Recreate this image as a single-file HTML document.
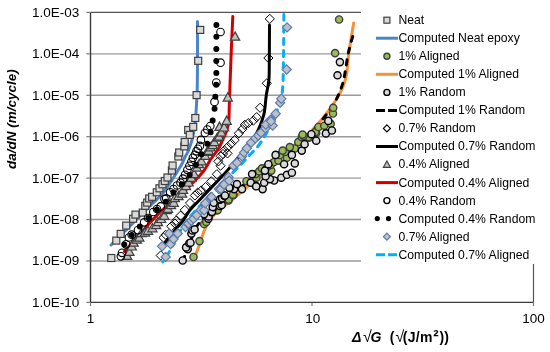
<!DOCTYPE html>
<html><head><meta charset="utf-8"><style>
html,body{margin:0;padding:0;background:#fff;}
svg{display:block;}
.tk{font-family:"Liberation Sans",Arial,sans-serif;font-size:13.5px;fill:#000;}
.lg{font-family:"Liberation Sans",Arial,sans-serif;font-size:12.2px;fill:#000;}
.at{font-family:"Liberation Sans",Arial,sans-serif;font-size:13.5px;font-weight:bold;font-style:italic;fill:#000;}
.at2{font-family:"Liberation Sans",Arial,sans-serif;font-size:14px;font-weight:bold;fill:#000;}
.it{font-style:italic;}
.sq{font-weight:normal;font-size:16px;}
.sup{font-size:16px;}
</style></head><body>
<svg width="550" height="352" viewBox="0 0 550 352">
<line x1="90.5" y1="53.83" x2="533.5" y2="53.83" stroke="#9a9a9a" stroke-width="1.4"/>
<line x1="90.5" y1="95.26" x2="533.5" y2="95.26" stroke="#9a9a9a" stroke-width="1.4"/>
<line x1="90.5" y1="136.69" x2="533.5" y2="136.69" stroke="#9a9a9a" stroke-width="1.4"/>
<line x1="90.5" y1="178.11" x2="533.5" y2="178.11" stroke="#9a9a9a" stroke-width="1.4"/>
<line x1="90.5" y1="219.54" x2="533.5" y2="219.54" stroke="#9a9a9a" stroke-width="1.4"/>
<line x1="90.5" y1="260.97" x2="533.5" y2="260.97" stroke="#9a9a9a" stroke-width="1.4"/>
<line x1="90.5" y1="12.4" x2="533.5" y2="12.4" stroke="#555" stroke-width="1.2"/>
<line x1="533.5" y1="12.4" x2="533.5" y2="302.4" stroke="#555" stroke-width="1.2"/>
<line x1="90.5" y1="12.4" x2="90.5" y2="302.4" stroke="#3a3a3a" stroke-width="1.4"/>
<line x1="90.5" y1="302.4" x2="533.5" y2="302.4" stroke="#3a3a3a" stroke-width="1.4"/>
<line x1="86.3" y1="12.40" x2="89.8" y2="12.40" stroke="#7a7a7a" stroke-width="1.2"/>
<line x1="86.3" y1="53.83" x2="89.8" y2="53.83" stroke="#7a7a7a" stroke-width="1.2"/>
<line x1="86.3" y1="95.26" x2="89.8" y2="95.26" stroke="#7a7a7a" stroke-width="1.2"/>
<line x1="86.3" y1="136.69" x2="89.8" y2="136.69" stroke="#7a7a7a" stroke-width="1.2"/>
<line x1="86.3" y1="178.11" x2="89.8" y2="178.11" stroke="#7a7a7a" stroke-width="1.2"/>
<line x1="86.3" y1="219.54" x2="89.8" y2="219.54" stroke="#7a7a7a" stroke-width="1.2"/>
<line x1="86.3" y1="260.97" x2="89.8" y2="260.97" stroke="#7a7a7a" stroke-width="1.2"/>
<line x1="86.3" y1="302.40" x2="89.8" y2="302.40" stroke="#7a7a7a" stroke-width="1.2"/>
<line x1="90.5" y1="303.09999999999997" x2="90.5" y2="306" stroke="#7a7a7a" stroke-width="1.2"/>
<line x1="312.0" y1="303.09999999999997" x2="312.0" y2="306" stroke="#7a7a7a" stroke-width="1.2"/>
<line x1="533.5" y1="303.09999999999997" x2="533.5" y2="306" stroke="#7a7a7a" stroke-width="1.2"/>
<path d="M111.0,245.0 C112.5,243.5 116.7,239.3 120.0,236.0 C123.3,232.7 127.3,228.7 131.0,225.0 C134.7,221.3 138.5,217.5 142.0,214.0 C145.5,210.5 148.5,207.4 152.0,204.0 C155.5,200.6 159.5,197.4 162.8,193.4 C166.1,189.4 169.0,184.6 172.0,180.0 C175.0,175.4 178.8,169.4 181.0,165.6 C183.2,161.8 183.8,159.5 185.0,157.0 C186.2,154.5 187.2,153.6 188.4,150.6 C189.6,147.6 191.2,143.0 192.2,139.1 C193.2,135.2 194.0,131.4 194.6,127.0 C195.2,122.6 195.6,118.9 196.0,112.7 C196.4,106.5 196.9,98.8 197.2,90.0 C197.4,81.2 197.4,71.4 197.5,60.0 C197.6,48.6 197.5,27.9 197.5,21.5" fill="none" stroke="#4a85cc" stroke-width="3" stroke-linecap="round" stroke-linejoin="round"/>
<rect x="107.8" y="254.5" width="7" height="7" fill="#d9d9d9" stroke="#3f3f3f" stroke-width="1.2"/>
<rect x="112.8" y="237.1" width="7" height="7" fill="#d9d9d9" stroke="#3f3f3f" stroke-width="1.2"/>
<rect x="117.2" y="230.4" width="7" height="7" fill="#d9d9d9" stroke="#3f3f3f" stroke-width="1.2"/>
<rect x="122.7" y="222.1" width="7" height="7" fill="#d9d9d9" stroke="#3f3f3f" stroke-width="1.2"/>
<rect x="129.6" y="215.3" width="7" height="7" fill="#d9d9d9" stroke="#3f3f3f" stroke-width="1.2"/>
<rect x="132.0" y="211.1" width="7" height="7" fill="#d9d9d9" stroke="#3f3f3f" stroke-width="1.2"/>
<rect x="139.3" y="209.1" width="7" height="7" fill="#d9d9d9" stroke="#3f3f3f" stroke-width="1.2"/>
<rect x="141.8" y="202.3" width="7" height="7" fill="#d9d9d9" stroke="#3f3f3f" stroke-width="1.2"/>
<rect x="143.7" y="199.1" width="7" height="7" fill="#d9d9d9" stroke="#3f3f3f" stroke-width="1.2"/>
<rect x="145.7" y="195.0" width="7" height="7" fill="#d9d9d9" stroke="#3f3f3f" stroke-width="1.2"/>
<rect x="148.6" y="193.3" width="7" height="7" fill="#d9d9d9" stroke="#3f3f3f" stroke-width="1.2"/>
<rect x="153.3" y="188.8" width="7" height="7" fill="#d9d9d9" stroke="#3f3f3f" stroke-width="1.2"/>
<rect x="156.0" y="184.8" width="7" height="7" fill="#d9d9d9" stroke="#3f3f3f" stroke-width="1.2"/>
<rect x="159.0" y="180.8" width="7" height="7" fill="#d9d9d9" stroke="#3f3f3f" stroke-width="1.2"/>
<rect x="161.3" y="177.5" width="7" height="7" fill="#d9d9d9" stroke="#3f3f3f" stroke-width="1.2"/>
<rect x="164.0" y="174.0" width="7" height="7" fill="#d9d9d9" stroke="#3f3f3f" stroke-width="1.2"/>
<rect x="168.4" y="167.0" width="7" height="7" fill="#d9d9d9" stroke="#3f3f3f" stroke-width="1.2"/>
<rect x="169.1" y="162.0" width="7" height="7" fill="#d9d9d9" stroke="#3f3f3f" stroke-width="1.2"/>
<rect x="174.8" y="153.0" width="7" height="7" fill="#d9d9d9" stroke="#3f3f3f" stroke-width="1.2"/>
<rect x="175.7" y="149.0" width="7" height="7" fill="#d9d9d9" stroke="#3f3f3f" stroke-width="1.2"/>
<rect x="180.8" y="142.9" width="7" height="7" fill="#d9d9d9" stroke="#3f3f3f" stroke-width="1.2"/>
<rect x="181.2" y="138.5" width="7" height="7" fill="#d9d9d9" stroke="#3f3f3f" stroke-width="1.2"/>
<rect x="184.7" y="126.5" width="7" height="7" fill="#d9d9d9" stroke="#3f3f3f" stroke-width="1.2"/>
<rect x="186.3" y="131.4" width="7" height="7" fill="#d9d9d9" stroke="#3f3f3f" stroke-width="1.2"/>
<rect x="189.7" y="123.4" width="7" height="7" fill="#d9d9d9" stroke="#3f3f3f" stroke-width="1.2"/>
<rect x="191.8" y="114.5" width="7" height="7" fill="#d9d9d9" stroke="#3f3f3f" stroke-width="1.2"/>
<rect x="193.1" y="91.6" width="7" height="7" fill="#d9d9d9" stroke="#3f3f3f" stroke-width="1.2"/>
<rect x="194.7" y="57.3" width="7" height="7" fill="#d9d9d9" stroke="#3f3f3f" stroke-width="1.2"/>
<rect x="196.7" y="26.4" width="7" height="7" fill="#d9d9d9" stroke="#3f3f3f" stroke-width="1.2"/>
<path d="M194.6,258.0 C195.5,255.5 198.1,248.1 199.9,243.2 C201.7,238.2 203.2,232.6 205.2,228.3 C207.1,224.1 209.1,220.9 211.6,217.7 C214.1,214.5 217.1,211.8 220.1,209.1 C223.1,206.4 226.4,204.4 229.7,201.7 C233.0,199.0 235.8,196.6 240.0,193.0 C244.2,189.4 250.7,184.0 255.0,180.0 C259.3,176.0 262.8,172.2 266.0,169.0 C269.2,165.8 271.1,163.8 274.1,161.0 C277.1,158.2 280.6,154.7 284.0,152.0 C287.4,149.3 291.5,147.1 294.7,144.9 C297.9,142.7 299.4,142.2 303.0,139.0 C306.6,135.8 312.0,130.3 316.2,125.7 C320.4,121.1 324.7,116.0 328.3,111.2 C331.9,106.4 335.6,100.7 338.0,96.7 C340.4,92.7 341.4,90.7 342.8,87.1 C344.2,83.5 345.4,80.7 346.4,75.0 C347.4,69.3 347.6,61.8 348.8,53.1 C350.0,44.4 352.9,27.9 353.7,22.9" fill="none" stroke="#f89038" stroke-width="3" stroke-linecap="round" stroke-linejoin="round"/>
<path d="M352.7,36.5 C352.0,39.3 349.5,47.5 348.3,53.1 C347.1,58.7 346.4,65.0 345.5,70.0 C344.6,75.0 344.2,78.6 342.8,83.3 C341.4,88.0 339.3,93.4 337.0,98.0 C334.7,102.6 332.2,106.5 329.0,111.0 C325.8,115.5 322.0,120.5 318.0,125.0 C314.0,129.5 309.0,134.7 305.0,138.0 C301.0,141.3 297.8,142.7 294.0,145.0 C290.2,147.3 286.0,149.2 282.0,152.0 C278.0,154.8 274.0,158.3 270.0,162.0 C266.0,165.7 262.2,170.3 258.0,174.0 C253.8,177.7 249.3,180.7 245.0,184.0 C240.7,187.3 236.2,190.7 232.0,194.0 C227.8,197.3 223.9,200.7 220.0,204.0 C216.1,207.3 211.9,211.0 208.6,214.0 C205.3,217.0 202.4,219.2 200.0,222.0 C197.6,224.8 195.5,228.0 194.0,231.0 C192.5,234.0 192.1,237.0 191.0,240.0 C189.9,243.0 189.1,245.7 187.7,249.1 C186.3,252.5 183.5,258.6 182.7,260.5" fill="none" stroke="#000" stroke-width="3" stroke-linecap="round" stroke-linejoin="round" stroke-dasharray="5 7"/>
<circle cx="193.5" cy="257.0" r="3.6" fill="#9bbb59" stroke="#3f3f3f" stroke-width="1.4"/>
<circle cx="199.5" cy="241.1" r="3.6" fill="#9bbb59" stroke="#3f3f3f" stroke-width="1.4"/>
<circle cx="204.1" cy="224.0" r="3.6" fill="#9bbb59" stroke="#3f3f3f" stroke-width="1.4"/>
<circle cx="206.3" cy="221.9" r="3.6" fill="#9bbb59" stroke="#3f3f3f" stroke-width="1.4"/>
<circle cx="216.9" cy="210.2" r="3.6" fill="#9bbb59" stroke="#3f3f3f" stroke-width="1.4"/>
<circle cx="217.7" cy="210.1" r="3.6" fill="#9bbb59" stroke="#3f3f3f" stroke-width="1.4"/>
<circle cx="228.5" cy="200.5" r="3.6" fill="#9bbb59" stroke="#3f3f3f" stroke-width="1.4"/>
<circle cx="228.6" cy="199.6" r="3.6" fill="#9bbb59" stroke="#3f3f3f" stroke-width="1.4"/>
<circle cx="232.9" cy="195.3" r="3.6" fill="#9bbb59" stroke="#3f3f3f" stroke-width="1.4"/>
<circle cx="233.6" cy="194.8" r="3.6" fill="#9bbb59" stroke="#3f3f3f" stroke-width="1.4"/>
<circle cx="233.0" cy="194.7" r="3.6" fill="#9bbb59" stroke="#3f3f3f" stroke-width="1.4"/>
<circle cx="246.4" cy="181.2" r="3.6" fill="#9bbb59" stroke="#3f3f3f" stroke-width="1.4"/>
<circle cx="252.8" cy="180.5" r="3.6" fill="#9bbb59" stroke="#3f3f3f" stroke-width="1.4"/>
<circle cx="256.4" cy="177.7" r="3.6" fill="#9bbb59" stroke="#3f3f3f" stroke-width="1.4"/>
<circle cx="255.6" cy="174.1" r="3.6" fill="#9bbb59" stroke="#3f3f3f" stroke-width="1.4"/>
<circle cx="259.2" cy="171.3" r="3.6" fill="#9bbb59" stroke="#3f3f3f" stroke-width="1.4"/>
<circle cx="271.3" cy="170.6" r="3.6" fill="#9bbb59" stroke="#3f3f3f" stroke-width="1.4"/>
<circle cx="262.0" cy="168.4" r="3.6" fill="#9bbb59" stroke="#3f3f3f" stroke-width="1.4"/>
<circle cx="267.0" cy="167.0" r="3.6" fill="#9bbb59" stroke="#3f3f3f" stroke-width="1.4"/>
<circle cx="270.6" cy="164.9" r="3.6" fill="#9bbb59" stroke="#3f3f3f" stroke-width="1.4"/>
<circle cx="274.1" cy="162.0" r="3.6" fill="#9bbb59" stroke="#3f3f3f" stroke-width="1.4"/>
<circle cx="278.4" cy="160.6" r="3.6" fill="#9bbb59" stroke="#3f3f3f" stroke-width="1.4"/>
<circle cx="286.9" cy="157.8" r="3.6" fill="#9bbb59" stroke="#3f3f3f" stroke-width="1.4"/>
<circle cx="280.0" cy="155.0" r="3.6" fill="#9bbb59" stroke="#3f3f3f" stroke-width="1.4"/>
<circle cx="285.0" cy="152.0" r="3.6" fill="#9bbb59" stroke="#3f3f3f" stroke-width="1.4"/>
<circle cx="282.7" cy="150.6" r="3.6" fill="#9bbb59" stroke="#3f3f3f" stroke-width="1.4"/>
<circle cx="294.8" cy="148.5" r="3.6" fill="#9bbb59" stroke="#3f3f3f" stroke-width="1.4"/>
<circle cx="289.8" cy="147.1" r="3.6" fill="#9bbb59" stroke="#3f3f3f" stroke-width="1.4"/>
<circle cx="298.3" cy="142.1" r="3.6" fill="#9bbb59" stroke="#3f3f3f" stroke-width="1.4"/>
<circle cx="309.0" cy="137.8" r="3.6" fill="#9bbb59" stroke="#3f3f3f" stroke-width="1.4"/>
<circle cx="304.5" cy="137.2" r="3.6" fill="#9bbb59" stroke="#3f3f3f" stroke-width="1.4"/>
<circle cx="301.8" cy="137.1" r="3.6" fill="#9bbb59" stroke="#3f3f3f" stroke-width="1.4"/>
<circle cx="308.6" cy="137.0" r="3.6" fill="#9bbb59" stroke="#3f3f3f" stroke-width="1.4"/>
<circle cx="303.6" cy="136.0" r="3.6" fill="#9bbb59" stroke="#3f3f3f" stroke-width="1.4"/>
<circle cx="302.6" cy="134.6" r="3.6" fill="#9bbb59" stroke="#3f3f3f" stroke-width="1.4"/>
<circle cx="316.2" cy="133.0" r="3.6" fill="#9bbb59" stroke="#3f3f3f" stroke-width="1.4"/>
<circle cx="315.3" cy="132.1" r="3.6" fill="#9bbb59" stroke="#3f3f3f" stroke-width="1.4"/>
<circle cx="318.5" cy="127.0" r="3.6" fill="#9bbb59" stroke="#3f3f3f" stroke-width="1.4"/>
<circle cx="324.3" cy="125.7" r="3.6" fill="#9bbb59" stroke="#3f3f3f" stroke-width="1.4"/>
<circle cx="330.7" cy="123.8" r="3.6" fill="#9bbb59" stroke="#3f3f3f" stroke-width="1.4"/>
<circle cx="333.0" cy="113.5" r="3.6" fill="#9bbb59" stroke="#3f3f3f" stroke-width="1.4"/>
<circle cx="333.2" cy="107.8" r="3.6" fill="#9bbb59" stroke="#3f3f3f" stroke-width="1.4"/>
<circle cx="335.1" cy="53.1" r="3.6" fill="#9bbb59" stroke="#3f3f3f" stroke-width="1.4"/>
<circle cx="339.1" cy="19.5" r="3.6" fill="#9bbb59" stroke="#3f3f3f" stroke-width="1.4"/>
<circle cx="255.7" cy="185.7" r="3.6" fill="#d9d9d9" stroke="#000" stroke-width="1.4"/>
<circle cx="250.7" cy="182.7" r="3.6" fill="#d9d9d9" stroke="#000" stroke-width="1.4"/>
<circle cx="182.7" cy="260.5" r="3.6" fill="#d9d9d9" stroke="#000" stroke-width="1.4"/>
<circle cx="187.7" cy="249.1" r="3.6" fill="#d9d9d9" stroke="#000" stroke-width="1.4"/>
<circle cx="186.1" cy="247.4" r="3.6" fill="#d9d9d9" stroke="#000" stroke-width="1.4"/>
<circle cx="189.3" cy="243.2" r="3.6" fill="#d9d9d9" stroke="#000" stroke-width="1.4"/>
<circle cx="190.5" cy="242.7" r="3.6" fill="#d9d9d9" stroke="#000" stroke-width="1.4"/>
<circle cx="191.4" cy="233.6" r="3.6" fill="#d9d9d9" stroke="#000" stroke-width="1.4"/>
<circle cx="192.4" cy="230.4" r="3.6" fill="#d9d9d9" stroke="#000" stroke-width="1.4"/>
<circle cx="194.6" cy="229.4" r="3.6" fill="#d9d9d9" stroke="#000" stroke-width="1.4"/>
<circle cx="208.4" cy="218.7" r="3.6" fill="#d9d9d9" stroke="#000" stroke-width="1.4"/>
<circle cx="208.6" cy="216.4" r="3.6" fill="#d9d9d9" stroke="#000" stroke-width="1.4"/>
<circle cx="204.1" cy="214.1" r="3.6" fill="#d9d9d9" stroke="#000" stroke-width="1.4"/>
<circle cx="211.6" cy="212.3" r="3.6" fill="#d9d9d9" stroke="#000" stroke-width="1.4"/>
<circle cx="212.0" cy="211.8" r="3.6" fill="#d9d9d9" stroke="#000" stroke-width="1.4"/>
<circle cx="213.8" cy="207.3" r="3.6" fill="#d9d9d9" stroke="#000" stroke-width="1.4"/>
<circle cx="212.7" cy="207.0" r="3.6" fill="#d9d9d9" stroke="#000" stroke-width="1.4"/>
<circle cx="220.1" cy="206.0" r="3.6" fill="#d9d9d9" stroke="#000" stroke-width="1.4"/>
<circle cx="221.7" cy="205.0" r="3.6" fill="#d9d9d9" stroke="#000" stroke-width="1.4"/>
<circle cx="213.7" cy="202.8" r="3.6" fill="#d9d9d9" stroke="#000" stroke-width="1.4"/>
<circle cx="220.1" cy="199.6" r="3.6" fill="#d9d9d9" stroke="#000" stroke-width="1.4"/>
<circle cx="220.0" cy="199.3" r="3.6" fill="#d9d9d9" stroke="#000" stroke-width="1.4"/>
<circle cx="222.1" cy="198.3" r="3.6" fill="#d9d9d9" stroke="#000" stroke-width="1.4"/>
<circle cx="224.5" cy="195.9" r="3.6" fill="#d9d9d9" stroke="#000" stroke-width="1.4"/>
<circle cx="225.0" cy="195.5" r="3.6" fill="#d9d9d9" stroke="#000" stroke-width="1.4"/>
<circle cx="234.2" cy="189.1" r="3.6" fill="#d9d9d9" stroke="#000" stroke-width="1.4"/>
<circle cx="242.0" cy="189.1" r="3.6" fill="#d9d9d9" stroke="#000" stroke-width="1.4"/>
<circle cx="262.6" cy="189.1" r="3.6" fill="#d9d9d9" stroke="#000" stroke-width="1.4"/>
<circle cx="229.7" cy="188.0" r="3.6" fill="#d9d9d9" stroke="#000" stroke-width="1.4"/>
<circle cx="229.2" cy="187.7" r="3.6" fill="#d9d9d9" stroke="#000" stroke-width="1.4"/>
<circle cx="256.2" cy="186.3" r="3.6" fill="#d9d9d9" stroke="#000" stroke-width="1.4"/>
<circle cx="237.0" cy="184.1" r="3.6" fill="#d9d9d9" stroke="#000" stroke-width="1.4"/>
<circle cx="264.2" cy="182.7" r="3.6" fill="#d9d9d9" stroke="#000" stroke-width="1.4"/>
<circle cx="274.1" cy="180.5" r="3.6" fill="#d9d9d9" stroke="#000" stroke-width="1.4"/>
<circle cx="269.9" cy="179.1" r="3.6" fill="#d9d9d9" stroke="#000" stroke-width="1.4"/>
<circle cx="281.3" cy="177.7" r="3.6" fill="#d9d9d9" stroke="#000" stroke-width="1.4"/>
<circle cx="265.6" cy="176.3" r="3.6" fill="#d9d9d9" stroke="#000" stroke-width="1.4"/>
<circle cx="286.9" cy="174.8" r="3.6" fill="#d9d9d9" stroke="#000" stroke-width="1.4"/>
<circle cx="252.1" cy="174.1" r="3.6" fill="#d9d9d9" stroke="#000" stroke-width="1.4"/>
<circle cx="291.9" cy="172.7" r="3.6" fill="#d9d9d9" stroke="#000" stroke-width="1.4"/>
<circle cx="264.9" cy="170.6" r="3.6" fill="#d9d9d9" stroke="#000" stroke-width="1.4"/>
<circle cx="284.1" cy="164.2" r="3.6" fill="#d9d9d9" stroke="#000" stroke-width="1.4"/>
<circle cx="268.4" cy="164.2" r="3.6" fill="#d9d9d9" stroke="#000" stroke-width="1.4"/>
<circle cx="294.8" cy="163.4" r="3.6" fill="#d9d9d9" stroke="#000" stroke-width="1.4"/>
<circle cx="275.6" cy="154.9" r="3.6" fill="#d9d9d9" stroke="#000" stroke-width="1.4"/>
<circle cx="291.9" cy="154.9" r="3.6" fill="#d9d9d9" stroke="#000" stroke-width="1.4"/>
<circle cx="301.8" cy="150.6" r="3.6" fill="#d9d9d9" stroke="#000" stroke-width="1.4"/>
<circle cx="304.6" cy="144.2" r="3.6" fill="#d9d9d9" stroke="#000" stroke-width="1.4"/>
<circle cx="316.2" cy="140.7" r="3.6" fill="#d9d9d9" stroke="#000" stroke-width="1.4"/>
<circle cx="311.4" cy="134.2" r="3.6" fill="#d9d9d9" stroke="#000" stroke-width="1.4"/>
<circle cx="325.9" cy="133.4" r="3.6" fill="#d9d9d9" stroke="#000" stroke-width="1.4"/>
<circle cx="331.9" cy="130.5" r="3.6" fill="#d9d9d9" stroke="#000" stroke-width="1.4"/>
<circle cx="328.3" cy="120.9" r="3.6" fill="#d9d9d9" stroke="#000" stroke-width="1.4"/>
<circle cx="337.5" cy="75.3" r="3.6" fill="#d9d9d9" stroke="#000" stroke-width="1.4"/>
<circle cx="339.9" cy="62.1" r="3.6" fill="#d9d9d9" stroke="#000" stroke-width="1.4"/>
<path d="M160.7,250.9L165.3,255.5L160.7,260.1L156.1,255.5Z" fill="none" stroke="#000" stroke-width="1.0"/>
<path d="M163.5,233.0L168.1,237.6L163.5,242.2L158.9,237.6Z" fill="none" stroke="#000" stroke-width="1.0"/>
<path d="M165.7,230.2L170.3,234.8L165.7,239.4L161.1,234.8Z" fill="none" stroke="#000" stroke-width="1.0"/>
<path d="M171.3,221.7L175.9,226.3L171.3,230.9L166.7,226.3Z" fill="none" stroke="#000" stroke-width="1.0"/>
<path d="M174.9,218.9L179.5,223.5L174.9,228.1L170.3,223.5Z" fill="none" stroke="#000" stroke-width="1.0"/>
<path d="M176.3,216.0L180.9,220.6L176.3,225.2L171.7,220.6Z" fill="none" stroke="#000" stroke-width="1.0"/>
<path d="M180.6,211.0L185.2,215.6L180.6,220.2L176.0,215.6Z" fill="none" stroke="#000" stroke-width="1.0"/>
<path d="M184.8,205.4L189.4,210.0L184.8,214.6L180.2,210.0Z" fill="none" stroke="#000" stroke-width="1.0"/>
<path d="M190.0,198.4L194.6,203.0L190.0,207.6L185.4,203.0Z" fill="none" stroke="#000" stroke-width="1.0"/>
<path d="M194.9,190.9L199.5,195.5L194.9,200.1L190.3,195.5Z" fill="none" stroke="#000" stroke-width="1.0"/>
<path d="M197.7,188.1L202.3,192.7L197.7,197.3L193.1,192.7Z" fill="none" stroke="#000" stroke-width="1.0"/>
<path d="M201.3,185.9L205.9,190.5L201.3,195.1L196.7,190.5Z" fill="none" stroke="#000" stroke-width="1.0"/>
<path d="M205.5,182.4L210.1,187.0L205.5,191.6L200.9,187.0Z" fill="none" stroke="#000" stroke-width="1.0"/>
<path d="M211.2,176.7L215.8,181.3L211.2,185.9L206.6,181.3Z" fill="none" stroke="#000" stroke-width="1.0"/>
<path d="M216.9,169.6L221.5,174.2L216.9,178.8L212.3,174.2Z" fill="none" stroke="#000" stroke-width="1.0"/>
<path d="M220.5,161.1L225.1,165.7L220.5,170.3L215.9,165.7Z" fill="none" stroke="#000" stroke-width="1.0"/>
<path d="M218.4,156.8L223.0,161.4L218.4,166.0L213.8,161.4Z" fill="none" stroke="#000" stroke-width="1.0"/>
<path d="M220.7,151.7L225.3,156.3L220.7,160.9L216.1,156.3Z" fill="none" stroke="#000" stroke-width="1.0"/>
<path d="M223.0,149.4L227.6,154.0L223.0,158.6L218.4,154.0Z" fill="none" stroke="#000" stroke-width="1.0"/>
<path d="M224.4,145.8L229.0,150.4L224.4,155.0L219.8,150.4Z" fill="none" stroke="#000" stroke-width="1.0"/>
<path d="M227.5,148.8L232.1,153.4L227.5,158.0L222.9,153.4Z" fill="none" stroke="#000" stroke-width="1.0"/>
<path d="M227.8,142.4L232.4,147.0L227.8,151.6L223.2,147.0Z" fill="none" stroke="#000" stroke-width="1.0"/>
<path d="M231.2,139.0L235.8,143.6L231.2,148.2L226.6,143.6Z" fill="none" stroke="#000" stroke-width="1.0"/>
<path d="M234.6,135.5L239.2,140.1L234.6,144.7L230.0,140.1Z" fill="none" stroke="#000" stroke-width="1.0"/>
<path d="M238.9,128.7L243.5,133.3L238.9,137.9L234.3,133.3Z" fill="none" stroke="#000" stroke-width="1.0"/>
<path d="M242.3,124.5L246.9,129.1L242.3,133.7L237.7,129.1Z" fill="none" stroke="#000" stroke-width="1.0"/>
<path d="M244.8,120.2L249.4,124.8L244.8,129.4L240.2,124.8Z" fill="none" stroke="#000" stroke-width="1.0"/>
<path d="M248.2,118.5L252.8,123.1L248.2,127.7L243.6,123.1Z" fill="none" stroke="#000" stroke-width="1.0"/>
<path d="M253.3,116.0L257.9,120.6L253.3,125.2L248.7,120.6Z" fill="none" stroke="#000" stroke-width="1.0"/>
<path d="M256.7,112.5L261.3,117.1L256.7,121.7L252.1,117.1Z" fill="none" stroke="#000" stroke-width="1.0"/>
<path d="M260.1,103.2L264.7,107.8L260.1,112.4L255.5,107.8Z" fill="none" stroke="#000" stroke-width="1.0"/>
<path d="M266.8,78.7L271.4,83.3L266.8,87.9L262.2,83.3Z" fill="none" stroke="#000" stroke-width="1.0"/>
<path d="M268.4,53.4L273.0,58.0L268.4,62.6L263.8,58.0Z" fill="none" stroke="#000" stroke-width="1.0"/>
<path d="M269.8,14.3L274.4,18.9L269.8,23.5L265.2,18.9Z" fill="none" stroke="#000" stroke-width="1.0"/>
<path d="M163.5,244.8 C164.4,243.6 167.1,240.4 169.2,237.7 C171.3,235.0 173.9,231.4 176.3,228.5 C178.7,225.6 181.1,223.4 183.4,220.3 C185.7,217.2 187.2,213.5 190.0,210.0 C192.8,206.5 196.7,203.0 200.0,199.5 C203.3,196.0 206.7,192.5 210.0,189.0 C213.3,185.5 216.9,181.8 220.0,178.5 C223.1,175.2 225.9,172.2 228.7,168.9 C231.5,165.7 234.3,162.2 237.0,159.0 C239.7,155.8 242.5,153.1 245.0,150.0 C247.5,146.9 249.9,143.6 252.0,140.5 C254.1,137.4 255.9,134.6 257.5,131.5 C259.1,128.4 260.4,125.2 261.5,122.0 C262.6,118.8 263.6,116.5 264.4,112.0 C265.2,107.5 265.6,100.3 266.3,95.0 C267.1,89.7 268.4,85.8 268.9,80.0 C269.4,74.2 269.2,69.2 269.3,60.0 C269.4,50.8 269.5,30.8 269.5,25.0" fill="none" stroke="#000" stroke-width="3" stroke-linecap="round" stroke-linejoin="round"/>
<path d="M124.5,251.5 C124.8,251.1 124.5,251.2 126.6,248.9 C128.7,246.6 133.6,241.3 137.0,237.5 C140.4,233.7 143.8,229.5 147.0,226.0 C150.2,222.5 153.2,219.4 156.0,216.5 C158.8,213.6 160.5,211.8 164.1,208.5 C167.7,205.2 173.7,200.4 177.6,197.0 C181.5,193.6 184.0,191.5 187.3,188.3 C190.6,185.2 194.7,181.1 197.5,178.1 C200.3,175.1 202.2,172.9 204.0,170.5 C205.8,168.1 206.9,165.7 208.2,163.6 C209.5,161.5 209.9,160.4 211.6,158.0 C213.3,155.6 216.5,152.0 218.4,148.9 C220.3,145.8 221.6,142.3 223.0,139.2 C224.4,136.1 225.9,133.2 226.9,130.1 C227.9,127.0 228.4,124.9 228.8,120.7 C229.2,116.5 229.1,110.1 229.3,105.0 C229.5,99.9 229.4,100.0 229.8,90.0 C230.2,80.0 231.0,57.2 231.5,45.0 C232.0,32.8 232.6,21.2 232.8,16.5" fill="none" stroke="#d00000" stroke-width="3" stroke-linecap="round" stroke-linejoin="round"/>
<path d="M127.2,251.1L131.8,259.4L122.6,259.4Z" fill="#c0c0c0" stroke="#3f3f3f" stroke-width="1.2"/>
<path d="M129.4,247.1L134.0,255.4L124.8,255.4Z" fill="#c0c0c0" stroke="#3f3f3f" stroke-width="1.2"/>
<path d="M131.8,241.7L136.4,250.0L127.2,250.0Z" fill="#c0c0c0" stroke="#3f3f3f" stroke-width="1.2"/>
<path d="M133.6,237.9L138.2,246.2L129.0,246.2Z" fill="#c0c0c0" stroke="#3f3f3f" stroke-width="1.2"/>
<path d="M136.8,234.8L141.4,243.1L132.2,243.1Z" fill="#c0c0c0" stroke="#3f3f3f" stroke-width="1.2"/>
<path d="M139.3,232.9L143.9,241.2L134.7,241.2Z" fill="#c0c0c0" stroke="#3f3f3f" stroke-width="1.2"/>
<path d="M141.4,228.4L146.0,236.7L136.8,236.7Z" fill="#c0c0c0" stroke="#3f3f3f" stroke-width="1.2"/>
<path d="M144.9,227.9L149.5,236.2L140.3,236.2Z" fill="#c0c0c0" stroke="#3f3f3f" stroke-width="1.2"/>
<path d="M148.0,226.0L152.6,234.3L143.4,234.3Z" fill="#c0c0c0" stroke="#3f3f3f" stroke-width="1.2"/>
<path d="M152.4,223.5L157.0,231.8L147.8,231.8Z" fill="#c0c0c0" stroke="#3f3f3f" stroke-width="1.2"/>
<path d="M156.1,220.4L160.7,228.7L151.5,228.7Z" fill="#c0c0c0" stroke="#3f3f3f" stroke-width="1.2"/>
<path d="M158.0,217.3L162.6,225.6L153.4,225.6Z" fill="#c0c0c0" stroke="#3f3f3f" stroke-width="1.2"/>
<path d="M161.1,214.2L165.7,222.5L156.5,222.5Z" fill="#c0c0c0" stroke="#3f3f3f" stroke-width="1.2"/>
<path d="M164.3,211.0L168.9,219.3L159.7,219.3Z" fill="#c0c0c0" stroke="#3f3f3f" stroke-width="1.2"/>
<path d="M166.8,205.4L171.4,213.7L162.2,213.7Z" fill="#c0c0c0" stroke="#3f3f3f" stroke-width="1.2"/>
<path d="M168.0,204.0L172.6,212.3L163.4,212.3Z" fill="#c0c0c0" stroke="#3f3f3f" stroke-width="1.2"/>
<path d="M171.0,200.4L175.6,208.7L166.4,208.7Z" fill="#c0c0c0" stroke="#3f3f3f" stroke-width="1.2"/>
<path d="M173.8,198.0L178.4,206.3L169.2,206.3Z" fill="#c0c0c0" stroke="#3f3f3f" stroke-width="1.2"/>
<path d="M174.8,193.4L179.4,201.7L170.2,201.7Z" fill="#c0c0c0" stroke="#3f3f3f" stroke-width="1.2"/>
<path d="M178.5,191.4L183.1,199.7L173.9,199.7Z" fill="#c0c0c0" stroke="#3f3f3f" stroke-width="1.2"/>
<path d="M182.1,188.8L186.7,197.1L177.5,197.1Z" fill="#c0c0c0" stroke="#3f3f3f" stroke-width="1.2"/>
<path d="M183.1,185.1L187.7,193.4L178.5,193.4Z" fill="#c0c0c0" stroke="#3f3f3f" stroke-width="1.2"/>
<path d="M186.0,181.4L190.6,189.7L181.4,189.7Z" fill="#c0c0c0" stroke="#3f3f3f" stroke-width="1.2"/>
<path d="M188.6,177.7L193.2,186.0L184.0,186.0Z" fill="#c0c0c0" stroke="#3f3f3f" stroke-width="1.2"/>
<path d="M191.4,173.1L196.0,181.4L186.8,181.4Z" fill="#c0c0c0" stroke="#3f3f3f" stroke-width="1.2"/>
<path d="M194.1,169.4L198.7,177.7L189.5,177.7Z" fill="#c0c0c0" stroke="#3f3f3f" stroke-width="1.2"/>
<path d="M196.9,162.9L201.5,171.2L192.3,171.2Z" fill="#c0c0c0" stroke="#3f3f3f" stroke-width="1.2"/>
<path d="M199.0,159.4L203.6,167.7L194.4,167.7Z" fill="#c0c0c0" stroke="#3f3f3f" stroke-width="1.2"/>
<path d="M201.5,156.5L206.1,164.8L196.9,164.8Z" fill="#c0c0c0" stroke="#3f3f3f" stroke-width="1.2"/>
<path d="M205.3,151.1L209.9,159.4L200.7,159.4Z" fill="#c0c0c0" stroke="#3f3f3f" stroke-width="1.2"/>
<path d="M207.0,147.2L211.6,155.5L202.4,155.5Z" fill="#c0c0c0" stroke="#3f3f3f" stroke-width="1.2"/>
<path d="M208.8,146.0L213.4,154.3L204.2,154.3Z" fill="#c0c0c0" stroke="#3f3f3f" stroke-width="1.2"/>
<path d="M210.5,142.6L215.1,150.9L205.9,150.9Z" fill="#c0c0c0" stroke="#3f3f3f" stroke-width="1.2"/>
<path d="M212.7,140.3L217.3,148.6L208.1,148.6Z" fill="#c0c0c0" stroke="#3f3f3f" stroke-width="1.2"/>
<path d="M214.4,137.4L219.0,145.7L209.8,145.7Z" fill="#c0c0c0" stroke="#3f3f3f" stroke-width="1.2"/>
<path d="M217.3,132.9L221.9,141.2L212.7,141.2Z" fill="#c0c0c0" stroke="#3f3f3f" stroke-width="1.2"/>
<path d="M219.0,131.8L223.6,140.1L214.4,140.1Z" fill="#c0c0c0" stroke="#3f3f3f" stroke-width="1.2"/>
<path d="M221.3,127.8L225.9,136.1L216.7,136.1Z" fill="#c0c0c0" stroke="#3f3f3f" stroke-width="1.2"/>
<path d="M219.5,122.1L224.1,130.4L214.9,130.4Z" fill="#c0c0c0" stroke="#3f3f3f" stroke-width="1.2"/>
<path d="M224.1,122.7L228.7,131.0L219.5,131.0Z" fill="#c0c0c0" stroke="#3f3f3f" stroke-width="1.2"/>
<path d="M226.7,116.1L231.3,124.4L222.1,124.4Z" fill="#c0c0c0" stroke="#3f3f3f" stroke-width="1.2"/>
<path d="M227.8,92.8L232.4,101.1L223.2,101.1Z" fill="#c0c0c0" stroke="#3f3f3f" stroke-width="1.2"/>
<path d="M235.1,31.9L239.7,40.2L230.5,40.2Z" fill="#c0c0c0" stroke="#3f3f3f" stroke-width="1.2"/>
<path d="M216.4,25.1 C216.4,31.2 216.3,51.8 216.3,61.8 C216.3,71.8 216.4,79.0 216.2,85.0 C216.0,91.0 215.5,94.0 215.2,98.0 C214.9,102.0 214.9,105.4 214.5,109.3 C214.1,113.2 213.2,117.3 212.5,121.3 C211.8,125.2 211.4,129.2 210.5,133.0 C209.6,136.8 208.6,140.5 207.0,144.3 C205.4,148.1 202.7,152.1 200.8,155.7 C198.9,159.3 197.4,162.3 195.4,165.7 C193.4,169.0 191.5,172.5 189.0,175.8 C186.5,179.1 183.2,182.7 180.5,185.5 C177.8,188.3 175.7,190.0 173.1,192.8 C170.5,195.6 167.8,199.8 165.2,202.4 C162.6,205.0 160.5,206.1 157.8,208.6 C155.2,211.1 152.1,214.3 149.3,217.2 C146.5,220.0 143.1,223.4 140.8,225.7 C138.5,227.9 137.8,228.4 135.7,230.7 C133.6,232.9 130.8,236.2 128.3,239.2 C125.8,242.2 122.1,247.3 120.9,248.9" fill="none" stroke="#000" stroke-width="6" stroke-linecap="round" stroke-linejoin="round" stroke-dasharray="0 11.95"/>
<circle cx="120.9" cy="256.3" r="3.8" fill="none" stroke="#000" stroke-width="1.1"/>
<circle cx="122.0" cy="252.8" r="3.8" fill="none" stroke="#000" stroke-width="1.1"/>
<circle cx="126.0" cy="244.3" r="3.8" fill="none" stroke="#000" stroke-width="1.1"/>
<circle cx="128.9" cy="237.5" r="3.8" fill="none" stroke="#000" stroke-width="1.1"/>
<circle cx="131.7" cy="234.7" r="3.8" fill="none" stroke="#000" stroke-width="1.1"/>
<circle cx="138.0" cy="230.1" r="3.8" fill="none" stroke="#000" stroke-width="1.1"/>
<circle cx="144.2" cy="222.3" r="3.8" fill="none" stroke="#000" stroke-width="1.1"/>
<circle cx="148.0" cy="218.0" r="3.8" fill="none" stroke="#000" stroke-width="1.1"/>
<circle cx="153.3" cy="212.0" r="3.8" fill="none" stroke="#000" stroke-width="1.1"/>
<circle cx="157.0" cy="209.0" r="3.8" fill="none" stroke="#000" stroke-width="1.1"/>
<circle cx="160.7" cy="206.4" r="3.8" fill="none" stroke="#000" stroke-width="1.1"/>
<circle cx="164.5" cy="199.1" r="3.8" fill="none" stroke="#000" stroke-width="1.1"/>
<circle cx="166.2" cy="198.4" r="3.8" fill="none" stroke="#000" stroke-width="1.1"/>
<circle cx="170.2" cy="192.3" r="3.8" fill="none" stroke="#000" stroke-width="1.1"/>
<circle cx="173.5" cy="189.0" r="3.8" fill="none" stroke="#000" stroke-width="1.1"/>
<circle cx="177.0" cy="185.5" r="3.8" fill="none" stroke="#000" stroke-width="1.1"/>
<circle cx="180.5" cy="182.7" r="3.8" fill="none" stroke="#000" stroke-width="1.1"/>
<circle cx="183.0" cy="178.7" r="3.8" fill="none" stroke="#000" stroke-width="1.1"/>
<circle cx="185.0" cy="174.8" r="3.8" fill="none" stroke="#000" stroke-width="1.1"/>
<circle cx="187.4" cy="169.8" r="3.8" fill="none" stroke="#000" stroke-width="1.1"/>
<circle cx="189.4" cy="165.8" r="3.8" fill="none" stroke="#000" stroke-width="1.1"/>
<circle cx="191.4" cy="161.8" r="3.8" fill="none" stroke="#000" stroke-width="1.1"/>
<circle cx="192.9" cy="157.8" r="3.8" fill="none" stroke="#000" stroke-width="1.1"/>
<circle cx="194.9" cy="154.8" r="3.8" fill="none" stroke="#000" stroke-width="1.1"/>
<circle cx="196.4" cy="151.3" r="3.8" fill="none" stroke="#000" stroke-width="1.1"/>
<circle cx="197.9" cy="148.8" r="3.8" fill="none" stroke="#000" stroke-width="1.1"/>
<circle cx="199.9" cy="145.9" r="3.8" fill="none" stroke="#000" stroke-width="1.1"/>
<circle cx="200.9" cy="139.9" r="3.8" fill="none" stroke="#000" stroke-width="1.1"/>
<circle cx="204.9" cy="133.0" r="3.8" fill="none" stroke="#000" stroke-width="1.1"/>
<circle cx="207.3" cy="129.5" r="3.8" fill="none" stroke="#000" stroke-width="1.1"/>
<circle cx="210.3" cy="126.0" r="3.8" fill="none" stroke="#000" stroke-width="1.1"/>
<circle cx="214.5" cy="101.9" r="3.8" fill="none" stroke="#000" stroke-width="1.1"/>
<circle cx="216.3" cy="82.6" r="3.8" fill="none" stroke="#000" stroke-width="1.1"/>
<circle cx="220.5" cy="62.7" r="3.8" fill="none" stroke="#000" stroke-width="1.1"/>
<circle cx="220.5" cy="32.0" r="3.8" fill="none" stroke="#000" stroke-width="1.1"/>
<path d="M283.9,14.5 C283.8,22.1 283.7,48.2 283.5,60.0 C283.3,71.8 283.2,79.0 282.9,85.0 C282.6,91.0 282.3,92.2 281.5,96.0 C280.7,99.8 279.2,104.0 278.0,107.7 C276.8,111.4 275.9,113.8 274.0,118.0 C272.1,122.2 269.3,128.0 266.7,132.7 C264.1,137.4 261.2,142.1 258.2,146.0 C255.1,149.9 251.2,153.4 248.4,156.4 C245.6,159.4 243.9,161.5 241.3,164.2 C238.7,166.9 235.4,170.1 232.8,172.8 C230.2,175.5 228.8,177.5 225.7,180.6 C222.6,183.7 219.2,186.5 214.3,191.4 C209.4,196.3 200.5,205.4 196.1,210.1 C191.7,214.8 190.0,216.4 187.7,219.3 C185.3,222.2 185.1,222.4 182.0,227.8 C178.9,233.2 172.4,246.2 169.2,251.9 C166.0,257.6 163.9,260.2 162.8,261.9" fill="none" stroke="#0aaef0" stroke-width="3" stroke-linecap="round" stroke-linejoin="round" stroke-dasharray="6 6"/>
<path d="M165.7,252.3L170.3,256.9L165.7,261.5L161.1,256.9Z" fill="#bcc0c8" stroke="#5b7bb0" stroke-width="1.2"/>
<path d="M162.1,241.7L166.7,246.3L162.1,250.9L157.5,246.3Z" fill="#bcc0c8" stroke="#5b7bb0" stroke-width="1.2"/>
<path d="M170.6,239.5L175.2,244.1L170.6,248.7L166.0,244.1Z" fill="#bcc0c8" stroke="#5b7bb0" stroke-width="1.2"/>
<path d="M173.5,234.5L178.1,239.1L173.5,243.7L168.9,239.1Z" fill="#bcc0c8" stroke="#5b7bb0" stroke-width="1.2"/>
<path d="M169.2,228.9L173.8,233.5L169.2,238.1L164.6,233.5Z" fill="#bcc0c8" stroke="#5b7bb0" stroke-width="1.2"/>
<path d="M177.7,228.9L182.3,233.5L177.7,238.1L173.1,233.5Z" fill="#bcc0c8" stroke="#5b7bb0" stroke-width="1.2"/>
<path d="M185.5,222.5L190.1,227.1L185.5,231.7L180.9,227.1Z" fill="#bcc0c8" stroke="#5b7bb0" stroke-width="1.2"/>
<path d="M188.2,219.4L192.8,224.0L188.2,228.6L183.6,224.0Z" fill="#bcc0c8" stroke="#5b7bb0" stroke-width="1.2"/>
<path d="M188.4,218.9L193.0,223.5L188.4,228.1L183.8,223.5Z" fill="#bcc0c8" stroke="#5b7bb0" stroke-width="1.2"/>
<path d="M191.2,216.1L195.8,220.7L191.2,225.3L186.6,220.7Z" fill="#bcc0c8" stroke="#5b7bb0" stroke-width="1.2"/>
<path d="M193.5,214.1L198.1,218.7L193.5,223.3L188.9,218.7Z" fill="#bcc0c8" stroke="#5b7bb0" stroke-width="1.2"/>
<path d="M196.7,210.6L201.3,215.2L196.7,219.8L192.1,215.2Z" fill="#bcc0c8" stroke="#5b7bb0" stroke-width="1.2"/>
<path d="M200.7,205.5L205.3,210.1L200.7,214.7L196.1,210.1Z" fill="#bcc0c8" stroke="#5b7bb0" stroke-width="1.2"/>
<path d="M204.1,205.6L208.7,210.2L204.1,214.8L199.5,210.2Z" fill="#bcc0c8" stroke="#5b7bb0" stroke-width="1.2"/>
<path d="M205.2,198.7L209.8,203.3L205.2,207.9L200.6,203.3Z" fill="#bcc0c8" stroke="#5b7bb0" stroke-width="1.2"/>
<path d="M210.5,192.8L215.1,197.4L210.5,202.0L205.9,197.4Z" fill="#bcc0c8" stroke="#5b7bb0" stroke-width="1.2"/>
<path d="M211.5,192.4L216.1,197.0L211.5,201.6L206.9,197.0Z" fill="#bcc0c8" stroke="#5b7bb0" stroke-width="1.2"/>
<path d="M218.9,184.5L223.5,189.1L218.9,193.7L214.3,189.1Z" fill="#bcc0c8" stroke="#5b7bb0" stroke-width="1.2"/>
<path d="M220.7,184.5L225.3,189.1L220.7,193.7L216.1,189.1Z" fill="#bcc0c8" stroke="#5b7bb0" stroke-width="1.2"/>
<path d="M223.6,179.5L228.2,184.1L223.6,188.7L219.0,184.1Z" fill="#bcc0c8" stroke="#5b7bb0" stroke-width="1.2"/>
<path d="M224.0,179.9L228.6,184.5L224.0,189.1L219.4,184.5Z" fill="#bcc0c8" stroke="#5b7bb0" stroke-width="1.2"/>
<path d="M228.5,172.4L233.1,177.0L228.5,181.6L223.9,177.0Z" fill="#bcc0c8" stroke="#5b7bb0" stroke-width="1.2"/>
<path d="M229.1,176.0L233.7,180.6L229.1,185.2L224.5,180.6Z" fill="#bcc0c8" stroke="#5b7bb0" stroke-width="1.2"/>
<path d="M233.5,161.1L238.1,165.7L233.5,170.3L228.9,165.7Z" fill="#bcc0c8" stroke="#5b7bb0" stroke-width="1.2"/>
<path d="M237.0,158.2L241.6,162.8L237.0,167.4L232.4,162.8Z" fill="#bcc0c8" stroke="#5b7bb0" stroke-width="1.2"/>
<path d="M242.0,151.8L246.6,156.4L242.0,161.0L237.4,156.4Z" fill="#bcc0c8" stroke="#5b7bb0" stroke-width="1.2"/>
<path d="M244.0,148.0L248.6,152.6L244.0,157.2L239.4,152.6Z" fill="#bcc0c8" stroke="#5b7bb0" stroke-width="1.2"/>
<path d="M246.8,143.7L251.4,148.3L246.8,152.9L242.2,148.3Z" fill="#bcc0c8" stroke="#5b7bb0" stroke-width="1.2"/>
<path d="M251.1,138.0L255.7,142.6L251.1,147.2L246.5,142.6Z" fill="#bcc0c8" stroke="#5b7bb0" stroke-width="1.2"/>
<path d="M255.3,133.8L259.9,138.4L255.3,143.0L250.7,138.4Z" fill="#bcc0c8" stroke="#5b7bb0" stroke-width="1.2"/>
<path d="M258.2,130.9L262.8,135.5L258.2,140.1L253.6,135.5Z" fill="#bcc0c8" stroke="#5b7bb0" stroke-width="1.2"/>
<path d="M261.0,128.1L265.6,132.7L261.0,137.3L256.4,132.7Z" fill="#bcc0c8" stroke="#5b7bb0" stroke-width="1.2"/>
<path d="M265.3,123.8L269.9,128.4L265.3,133.0L260.7,128.4Z" fill="#bcc0c8" stroke="#5b7bb0" stroke-width="1.2"/>
<path d="M265.8,120.0L270.4,124.6L265.8,129.2L261.2,124.6Z" fill="#bcc0c8" stroke="#5b7bb0" stroke-width="1.2"/>
<path d="M270.8,115.0L275.4,119.6L270.8,124.2L266.2,119.6Z" fill="#bcc0c8" stroke="#5b7bb0" stroke-width="1.2"/>
<path d="M272.7,121.0L277.3,125.6L272.7,130.2L268.1,125.6Z" fill="#bcc0c8" stroke="#5b7bb0" stroke-width="1.2"/>
<path d="M271.0,116.7L275.6,121.3L271.0,125.9L266.4,121.3Z" fill="#bcc0c8" stroke="#5b7bb0" stroke-width="1.2"/>
<path d="M275.7,109.1L280.3,113.7L275.7,118.3L271.1,113.7Z" fill="#bcc0c8" stroke="#5b7bb0" stroke-width="1.2"/>
<path d="M280.1,98.1L284.7,102.7L280.1,107.3L275.5,102.7Z" fill="#bcc0c8" stroke="#5b7bb0" stroke-width="1.2"/>
<path d="M281.3,94.2L285.9,98.8L281.3,103.4L276.7,98.8Z" fill="#bcc0c8" stroke="#5b7bb0" stroke-width="1.2"/>
<path d="M286.7,64.9L291.3,69.5L286.7,74.1L282.1,69.5Z" fill="#bcc0c8" stroke="#5b7bb0" stroke-width="1.2"/>
<path d="M287.1,22.8L291.7,27.4L287.1,32.0L282.5,27.4Z" fill="#bcc0c8" stroke="#5b7bb0" stroke-width="1.2"/>
<rect x="361" y="5" width="189" height="259" fill="#fff"/>
<rect x="383.9" y="17.2" width="6" height="6" fill="#d9d9d9" stroke="#3f3f3f" stroke-width="1.2"/>
<text x="398.5" y="24.1" class="lg">Neat</text>
<line x1="376" y1="38.2" x2="398" y2="38.2" stroke="#4a85cc" stroke-width="3"/>
<text x="398.5" y="42.1" class="lg">Computed Neat epoxy</text>
<circle cx="386.9" cy="56.3" r="3" fill="#9bbb59" stroke="#3f3f3f" stroke-width="1.4"/>
<text x="398.5" y="60.2" class="lg">1% Aligned</text>
<line x1="376" y1="74.3" x2="398" y2="74.3" stroke="#f89038" stroke-width="3"/>
<text x="398.5" y="78.2" class="lg">Computed 1% Aligned</text>
<circle cx="386.9" cy="92.4" r="3" fill="#d9d9d9" stroke="#000" stroke-width="1.4"/>
<text x="398.5" y="96.3" class="lg">1% Random</text>
<line x1="376" y1="110.4" x2="398" y2="110.4" stroke="#000" stroke-width="3" stroke-dasharray="9 3"/>
<text x="398.5" y="114.3" class="lg">Computed 1% Random</text>
<path d="M386.9,124.9L390.4,128.4L386.9,131.9L383.4,128.4Z" fill="#fff" stroke="#000" stroke-width="1.2"/>
<text x="398.5" y="132.3" class="lg">0.7% Random</text>
<line x1="376" y1="146.5" x2="398" y2="146.5" stroke="#000" stroke-width="3"/>
<text x="398.5" y="150.4" class="lg">Computed 0.7% Random</text>
<path d="M386.9,161.0L390.4,167.3L383.4,167.3Z" fill="#c0c0c0" stroke="#3f3f3f" stroke-width="1.2"/>
<text x="398.5" y="168.4" class="lg">0.4% Aligned</text>
<line x1="376" y1="182.6" x2="398" y2="182.6" stroke="#d00000" stroke-width="3"/>
<text x="398.5" y="186.5" class="lg">Computed 0.4% Aligned</text>
<circle cx="386.9" cy="200.6" r="3" fill="#fff" stroke="#000" stroke-width="1.4"/>
<text x="398.5" y="204.5" class="lg">0.4% Random</text>
<circle cx="377.3" cy="218.6" r="2.6" fill="#000"/><circle cx="388.5" cy="218.6" r="2.6" fill="#000"/>
<text x="398.5" y="222.5" class="lg">Computed 0.4% Random</text>
<path d="M386.9,233.2L390.4,236.7L386.9,240.2L383.4,236.7Z" fill="#bcc0c8" stroke="#5b7bb0" stroke-width="1.2"/>
<text x="398.5" y="240.6" class="lg">0.7% Aligned</text>
<line x1="376" y1="254.7" x2="398" y2="254.7" stroke="#00b0f0" stroke-width="3" stroke-dasharray="9 3"/>
<text x="398.5" y="258.6" class="lg">Computed 0.7% Aligned</text>
<text x="79.3" y="16.8" class="tk" text-anchor="end">1.0E-03</text>
<text x="79.3" y="58.2" class="tk" text-anchor="end">1.0E-04</text>
<text x="79.3" y="99.7" class="tk" text-anchor="end">1.0E-05</text>
<text x="79.3" y="141.1" class="tk" text-anchor="end">1.0E-06</text>
<text x="79.3" y="182.5" class="tk" text-anchor="end">1.0E-07</text>
<text x="79.3" y="223.9" class="tk" text-anchor="end">1.0E-08</text>
<text x="79.3" y="265.4" class="tk" text-anchor="end">1.0E-09</text>
<text x="79.3" y="306.8" class="tk" text-anchor="end">1.0E-10</text>
<text x="90.5" y="323.2" class="tk" text-anchor="middle">1</text>
<text x="312.8" y="323.2" class="tk" text-anchor="middle">10</text>
<text x="533.5" y="323.2" class="tk" text-anchor="middle">100</text>
<text transform="translate(15.5,119.2) rotate(-90)" class="at" text-anchor="middle">da/dN (m/cycle)</text>
<text x="352" y="342" class="at2 it">&#916;</text>
<text x="363" y="342" class="at2 sq">&#8730;</text>
<text x="370.5" y="342" class="at2 it">G</text>
<text x="389.8" y="342" class="at2">(</text>
<text x="395.6" y="342" class="at2 sq">&#8730;</text>
<text x="402.8" y="342" class="at2">(</text>
<text x="407.7" y="342" class="at2">J</text>
<text x="415.7" y="342" class="at2">/</text>
<text x="420" y="342" class="at2">m</text>
<text x="433.3" y="342" class="at2 sup">&#178;</text>
<text x="439.5" y="342" class="at2">)</text>
<text x="444.3" y="342" class="at2">)</text>
</svg>
</body></html>
